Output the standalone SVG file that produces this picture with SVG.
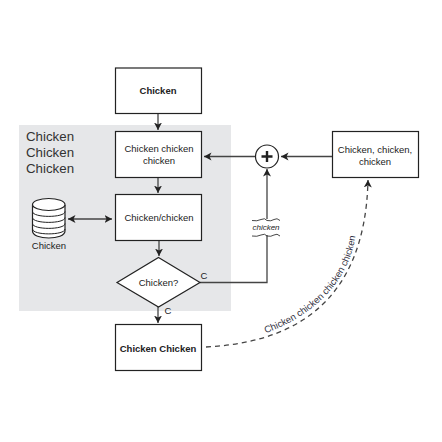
<svg xmlns="http://www.w3.org/2000/svg" width="442" height="442" viewBox="0 0 442 442">
<style>
text{font-family:"Liberation Sans",Arial,sans-serif;font-size:9.500px;fill:#222;text-anchor:middle}
.b{fill:#fff;stroke:#222;stroke-width:1.2}
.bold{font-weight:bold}
.l{fill:none;stroke:#444;stroke-width:1.3}
.big{font-size:13.300px;text-anchor:start;fill:#333}
</style>
<defs>
<marker id="a" markerUnits="userSpaceOnUse" markerWidth="9" markerHeight="9" refX="7.500" refY="4" orient="auto-start-reverse"><path d="M0 0L7.500 4L0 8L2 4Z" fill="#222"/></marker>
<path id="tp" d="M262 334.500C305 320 350 287 356 232"/>
</defs>
<rect x="19" y="125" width="212" height="186" fill="#e6e7e9"/>
<g id="connectors">
<path class="l" d="M158 113V130" marker-end="url(#a)"/>
<path class="l" d="M158 177V193" marker-end="url(#a)"/>
<path class="l" d="M159 240.500V256" marker-end="url(#a)"/>
<path class="l" d="M158 307V323" marker-end="url(#a)"/>
<path class="l" d="M68 219H112" marker-start="url(#a)" marker-end="url(#a)"/>
<path class="l" d="M255 156.500H204" marker-end="url(#a)"/>
<path class="l" d="M332.500 156.500H281" marker-end="url(#a)"/>
<path class="l" d="M200 282.500H267V169" marker-end="url(#a)"/>
<path class="l" d="M206 347C285 343 365 310 368 180" stroke-dasharray="5 4" marker-end="url(#a)"/>
<rect x="250" y="219" width="36" height="16" fill="#fff"/>
<path d="M252 220.500q5 1 9-1t6 1q4 1 7-1t6 1M252 236q5 1 9-1t6 1q4 1 7-1t6 1" fill="none" stroke="#333" stroke-width="0.9"/>
<text x="266" y="230" style="font-size:8px;font-style:italic">chicken</text>
<text style="fill:#334"><textPath href="#tp" startOffset="50%">Chicken chicken chicken chicken</textPath></text>
<text x="204" y="279">C</text>
<text x="168" y="314">C</text>
</g>
<g id="group-label">
<text class="big" x="26" y="141">Chicken</text>
<text class="big" x="26" y="157">Chicken</text>
<text class="big" x="26" y="173">Chicken</text>
</g>
<g id="n1"><rect class="b" x="115.500" y="68" width="86" height="45.500"/><text class="bold" x="158" y="94">Chicken</text></g>
<g id="n2"><rect class="b" x="115.500" y="131.500" width="86" height="46"/><text x="159" y="152">Chicken chicken</text><text x="159" y="164">chicken</text></g>
<g id="n3"><rect class="b" x="115.500" y="194.500" width="86" height="46"/><text x="159" y="221">Chicken/chicken</text></g>
<g id="n4"><path class="b" d="M158.500 257.500L200 282.500L158.500 307L117 282.500Z"/><text x="158.500" y="286">Chicken?</text></g>
<g id="n5"><rect class="b" x="115.500" y="324.500" width="86" height="46"/><text class="bold" x="158" y="352">Chicken Chicken</text></g>
<g id="n6"><rect class="b" x="332.500" y="131.500" width="86" height="46"/><text x="375" y="153">Chicken, chicken,</text><text x="375" y="165">chicken</text></g>
<g id="sum"><circle class="b" cx="267" cy="156.500" r="11.500"/><path d="M267 151V162M261.500 156.500H272.500" stroke="#222" stroke-width="2.400" fill="none"/></g>
<g id="db">
<path class="b" d="M32.500 205V231C32.500 240.300 65 240.300 65 231V205" />
<ellipse class="b" cx="48.750" cy="204.500" rx="16.250" ry="6"/>
<path d="M32.500 211.500C32.500 218 65 218 65 211.500M32.500 217.500C32.500 224 65 224 65 217.500M32.500 223.500C32.500 230 65 230 65 223.500M32.500 229C32.500 235.500 65 235.500 65 229" fill="none" stroke="#222" stroke-width="1"/>
<text x="49" y="249">Chicken</text>
</g>
</svg>
